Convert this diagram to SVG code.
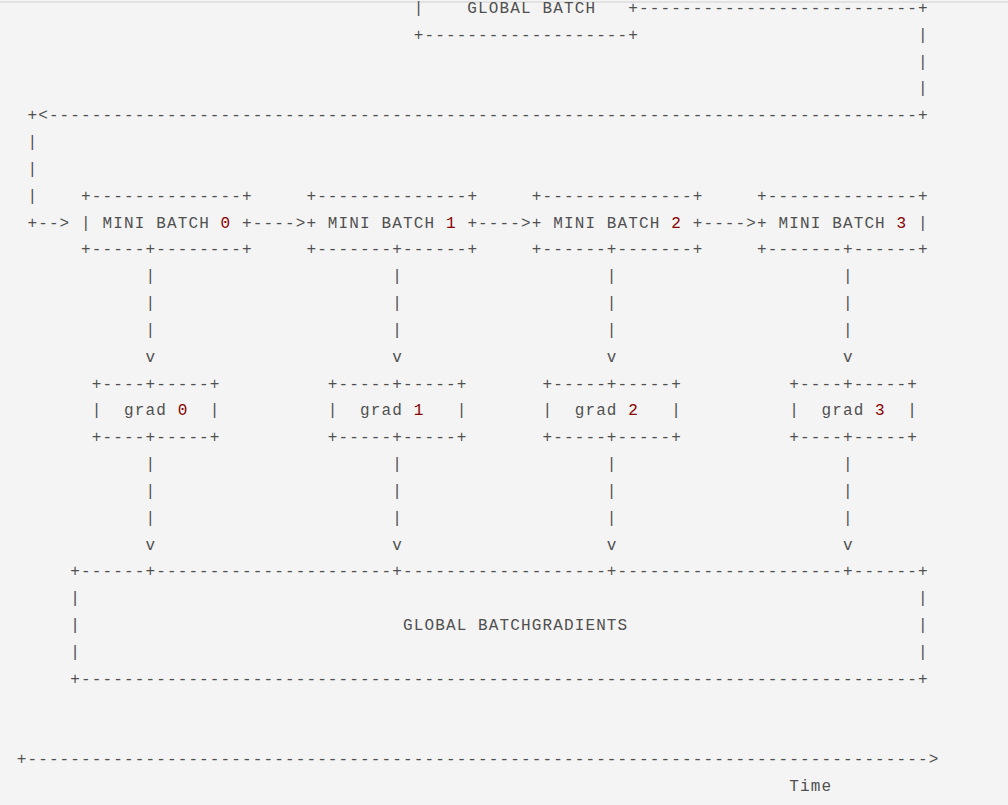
<svg xmlns="http://www.w3.org/2000/svg" width="1008" height="805" viewBox="0 0 1008 805">
<style>
text { font-family: "Liberation Mono", "DejaVu Sans Mono", monospace; font-size: 16px; letter-spacing: 1.13px; fill: #505050; white-space: pre; }
.n { fill: #880000; }
</style>
<rect width="1008" height="805" fill="#f4f4f4"/>
<line x1="0" y1="2" x2="1008" y2="2" stroke="#dcdcdc" stroke-width="1.5"/>

<g id="global-batch">
<text x="413.71" y="12.9">|    GLOBAL BATCH   +</text>
<text y="39.73"><tspan x="413.71">+---</tspan><tspan x="456.63">----------------</tspan><tspan x="628.31">+</tspan></text>
</g>

<g id="mini-batch-0">
<text x="81.08" y="200.71">+--------------+</text>
<text x="81.08" y="227.54">| MINI BATCH <tspan class="n">0</tspan> +</text>
<text x="81.08" y="254.37">+-----+--------+</text>
</g>
<g id="mini-batch-1">
<text x="306.41" y="200.71">+--------------+</text>
<text x="306.41" y="227.54">+ MINI BATCH <tspan class="n">1</tspan> +</text>
<text x="306.41" y="254.37">+-------+------+</text>
</g>
<g id="mini-batch-2">
<text x="531.74" y="200.71">+--------------+</text>
<text x="531.74" y="227.54">+ MINI BATCH <tspan class="n">2</tspan> +</text>
<text x="531.74" y="254.37">+------+-------+</text>
</g>
<g id="mini-batch-3">
<text x="757.07" y="200.71">+--------------+</text>
<text x="757.07" y="227.54">+ MINI BATCH <tspan class="n">3</tspan> |</text>
<text x="757.07" y="254.37">+-------+------+</text>
</g>

<g id="grad-0">
<text x="91.81" y="388.52">+----+-----+</text>
<text x="91.81" y="415.35">|  grad <tspan class="n">0</tspan>  |</text>
<text x="91.81" y="442.18">+----+-----+</text>
</g>
<g id="grad-1">
<text x="327.87" y="388.52">+-----+-----+</text>
<text x="327.87" y="415.35">|  grad <tspan class="n">1</tspan>   |</text>
<text x="327.87" y="442.18">+-----+-----+</text>
</g>
<g id="grad-2">
<text x="542.47" y="388.52">+-----+-----+</text>
<text x="542.47" y="415.35">|  grad <tspan class="n">2</tspan>   |</text>
<text x="542.47" y="442.18">+-----+-----+</text>
</g>
<g id="grad-3">
<text x="789.26" y="388.52">+----+-----+</text>
<text x="789.26" y="415.35">|  grad <tspan class="n">3</tspan>  |</text>
<text x="789.26" y="442.18">+----+-----+</text>
</g>

<g id="global-batch-gradients">
<text y="576.33"><tspan x="70.35">+------+--------</tspan><tspan x="242.03">--------------+-----</tspan><tspan x="456.63">--------------+-----</tspan><tspan x="671.23">----------------+------+</tspan></text>
<text><tspan x="70.35" y="603.16">|</tspan><tspan x="918.02" y="603.16">|</tspan><tspan x="70.35" y="629.99">|</tspan><tspan x="918.02" y="629.99">|</tspan><tspan x="70.35" y="656.82">|</tspan><tspan x="918.02" y="656.82">|</tspan></text>
<text x="402.98" y="629.99">GLOBAL BATCHGRADIENTS</text>
<text y="683.65"><tspan x="70.35">+---------------</tspan><tspan x="242.03">--------------------</tspan><tspan x="456.63">--------------------</tspan><tspan x="671.23">--------------------</tspan><tspan x="885.83">---+</tspan></text>
</g>

<g id="time-axis">
<text y="764.14"><tspan x="16.7">+--------------------</tspan><tspan x="242.03">--------------------</tspan><tspan x="456.63">--------------------</tspan><tspan x="671.23">--------------------</tspan><tspan x="885.83">----&gt;</tspan></text>
<text x="789.26" y="790.97">Time</text>
</g>

<g id="connectors">
<text y="12.9"><tspan x="639.04">---</tspan><tspan x="671.23">--------------------</tspan><tspan x="885.83">---+</tspan></text>
<text><tspan x="918.02" y="39.73">|</tspan><tspan x="918.02" y="66.56">|</tspan><tspan x="918.02" y="93.39">|</tspan></text>
<text y="120.22"><tspan x="27.43">+&lt;------------------</tspan><tspan x="242.03">--------------------</tspan><tspan x="456.63">--------------------</tspan><tspan x="671.23">--------------------</tspan><tspan x="885.83">---+</tspan></text>
<text><tspan x="27.43" y="147.05">|</tspan><tspan x="27.43" y="173.88">|</tspan><tspan x="27.43" y="200.71">|</tspan></text>
<text x="27.43" y="227.54">+--&gt;</text>
<text x="252.76" y="227.54">----&gt;</text>
<text x="478.09" y="227.54">----&gt;</text>
<text x="703.42" y="227.54">----&gt;</text>
<text><tspan x="145.46" y="281.2">|</tspan><tspan x="145.46" y="308.03">|</tspan><tspan x="145.46" y="334.86">|</tspan><tspan x="145.46" y="361.69">v</tspan><tspan x="145.46" y="469.01">|</tspan><tspan x="145.46" y="495.84">|</tspan><tspan x="145.46" y="522.67">|</tspan><tspan x="145.46" y="549.5">v</tspan></text>
<text><tspan x="392.25" y="281.2">|</tspan><tspan x="392.25" y="308.03">|</tspan><tspan x="392.25" y="334.86">|</tspan><tspan x="392.25" y="361.69">v</tspan><tspan x="392.25" y="469.01">|</tspan><tspan x="392.25" y="495.84">|</tspan><tspan x="392.25" y="522.67">|</tspan><tspan x="392.25" y="549.5">v</tspan></text>
<text><tspan x="606.85" y="281.2">|</tspan><tspan x="606.85" y="308.03">|</tspan><tspan x="606.85" y="334.86">|</tspan><tspan x="606.85" y="361.69">v</tspan><tspan x="606.85" y="469.01">|</tspan><tspan x="606.85" y="495.84">|</tspan><tspan x="606.85" y="522.67">|</tspan><tspan x="606.85" y="549.5">v</tspan></text>
<text><tspan x="842.91" y="281.2">|</tspan><tspan x="842.91" y="308.03">|</tspan><tspan x="842.91" y="334.86">|</tspan><tspan x="842.91" y="361.69">v</tspan><tspan x="842.91" y="469.01">|</tspan><tspan x="842.91" y="495.84">|</tspan><tspan x="842.91" y="522.67">|</tspan><tspan x="842.91" y="549.5">v</tspan></text>
</g>
</svg>
